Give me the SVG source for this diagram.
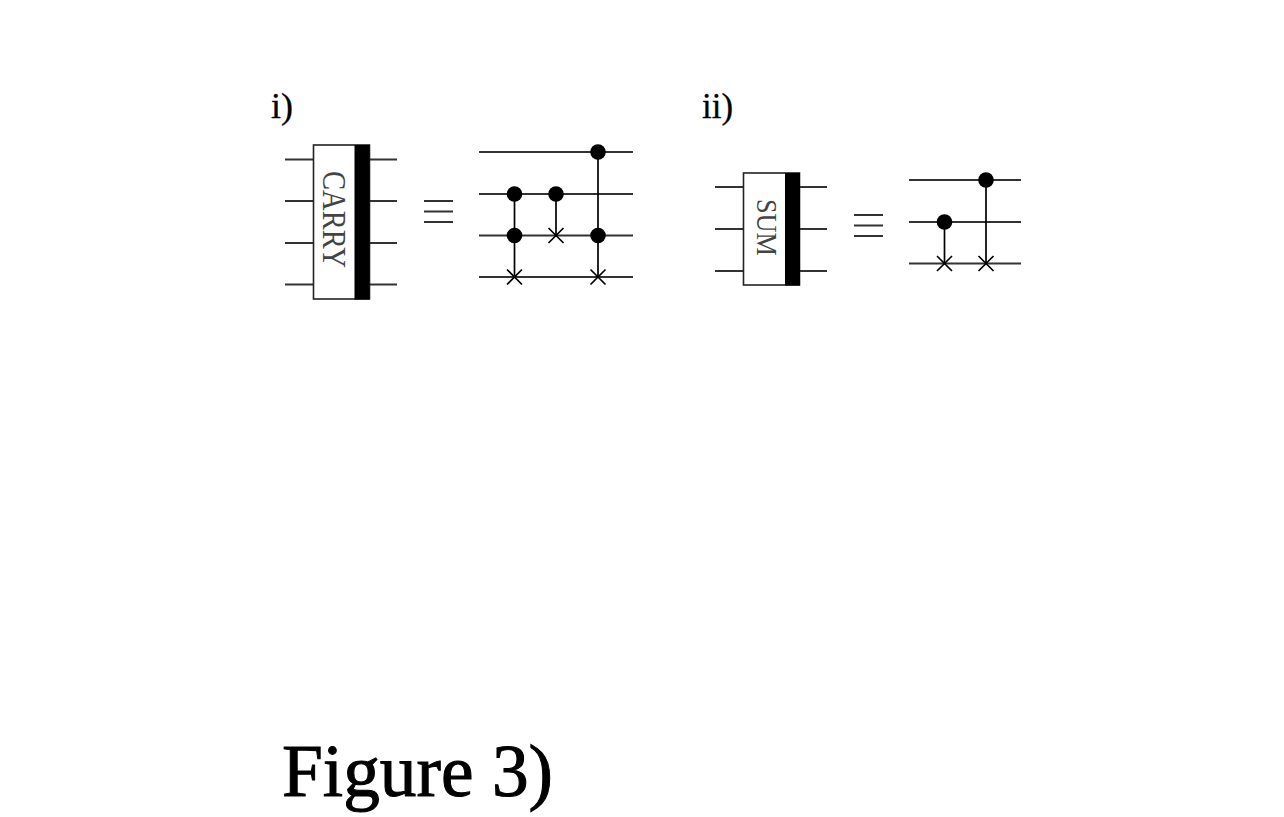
<svg xmlns="http://www.w3.org/2000/svg" width="1284" height="817" viewBox="0 0 1284 817">
<style>
text{font-family:"Liberation Serif","Times New Roman",serif;fill:#000}
.w{stroke:#333;stroke-width:1.8;fill:none}
.v{stroke:#000;stroke-width:1.7;fill:none}
.box{fill:#fff;stroke:#222;stroke-width:1.6}
.bar{fill:#000}
.dot{fill:#000}
.lbl{font-size:36px;stroke:#000;stroke-width:.3}
.gate{fill:#444}
.cap{font-size:73px;stroke:#000;stroke-width:1}
</style>
<defs>
<path id="x" class="v" d="M-7.500-7.500L7.500 7.500M-7.500 7.500L7.500-7.500"/>
</defs>
<rect width="1284" height="817" fill="#fff"/>
<text class="lbl" x="271" y="118">i)</text>
<text class="lbl" x="702" y="118" textLength="31" lengthAdjust="spacingAndGlyphs">ii)</text>
<g id="connectors">
<path class="w" d="M285 159.500H313M285 201H313M285 243H313M285 284.500H313M369 159.500H397M369 201H397M369 243H397M369 284.500H397"/>
<path class="w" d="M424 201H453M424 211.500H453M424 222H453"/>
<path class="w" d="M479 152H633M479 194H633M479 235.500H633M479 277H633"/>
<path class="v" d="M514.500 194V277M556 194V235.500M598 152V277"/>
<path class="w" d="M715 187H743M715 229H743M715 271H743M800 187H827M800 229H827M800 271H827"/>
<path class="w" d="M854 215H883M854 225.500H883M854 236H883"/>
<path class="w" d="M909 180H1021M909 222H1021M909 263.500H1021"/>
<path class="v" d="M944.500 222V263.500M986 180V263.500"/>
</g>
<g id="carry">
<rect class="box" x="313.500" y="145" width="56" height="154"/>
<rect class="bar" x="354.500" y="145" width="15" height="154.500"/>
<text class="gate" font-size="33" transform="translate(323 171) rotate(90)" textLength="97" lengthAdjust="spacingAndGlyphs">CARRY</text>
</g>
<g id="carry-gates">
<circle class="dot" cx="514.500" cy="194" r="7.800"/>
<circle class="dot" cx="514.500" cy="235.500" r="7.800"/>
<use href="#x" x="514.500" y="277"/>
<circle class="dot" cx="556" cy="194" r="7.800"/>
<use href="#x" x="556" y="235.500"/>
<circle class="dot" cx="598" cy="152" r="7.800"/>
<circle class="dot" cx="598" cy="235.500" r="7.800"/>
<use href="#x" x="598" y="277"/>
</g>
<g id="sum">
<rect class="box" x="743.500" y="173" width="56" height="112"/>
<rect class="bar" x="785" y="173" width="15" height="112.500"/>
<text class="gate" font-size="30" transform="translate(757 199) rotate(90)" textLength="57" lengthAdjust="spacingAndGlyphs">SUM</text>
</g>
<g id="sum-gates">
<circle class="dot" cx="944.500" cy="222" r="7.800"/>
<use href="#x" x="944.500" y="263.500"/>
<circle class="dot" cx="986" cy="180" r="7.800"/>
<use href="#x" x="986" y="263.500"/>
</g>
<text class="cap" x="282" y="796" textLength="271" lengthAdjust="spacingAndGlyphs">Figure 3)</text>
</svg>
